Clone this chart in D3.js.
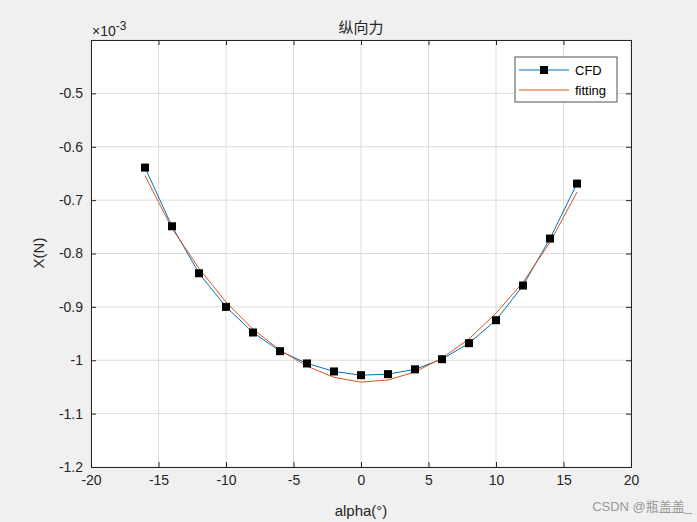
<!DOCTYPE html><html><head><meta charset="utf-8">
<script src="https://cdn.jsdelivr.net/npm/d3@7"></script>
<style>body{margin:0;background:#f0f0f0}text{font-family:Arial,"Liberation Sans","Noto Sans CJK SC",sans-serif}</style></head><body>
<svg id="c" width="697" height="522"></svg>
<script>
const alpha=[-16,-14,-12,-10,-8,-6,-4,-2,0,2,4,6,8,10,12,14,16];
const cfd=[-0.639,-0.749,-0.837,-0.900,-0.948,-0.983,-1.006,-1.021,-1.028,-1.026,-1.017,-0.998,-0.968,-0.925,-0.860,-0.772,-0.669];
const fitting=[-0.654,-0.753,-0.828,-0.891,-0.942,-0.981,-1.011,-1.032,-1.041,-1.037,-1.022,-0.996,-0.960,-0.912,-0.854,-0.779,-0.685];
const xTicks=[-20,-15,-10,-5,0,5,10,15,20];
const yTicks=[-1.2,-1.1,-1,-0.9,-0.8,-0.7,-0.6,-0.5];
const svg=d3.select("#c");
const L=91,R=631,T=40,B=467;
const x=d3.scaleLinear().domain([-20,20]).range([L,R]);
const y=d3.scaleLinear().domain([-1.2,-0.4]).range([B,T]);
svg.append("rect").attr("x",L).attr("y",T).attr("width",R-L).attr("height",B-T).attr("fill","#fff");
const g=svg.append("g");
xTicks.forEach(t=>g.append("line").attr("x1",x(t)).attr("x2",x(t)).attr("y1",T).attr("y2",B).attr("stroke","#dcdcdc"));
[...yTicks,-0.4].forEach(t=>g.append("line").attr("y1",y(t)).attr("y2",y(t)).attr("x1",L).attr("x2",R).attr("stroke","#dcdcdc"));
const fmt=d=>String(+d.toFixed(1));
svg.append("g").attr("transform",`translate(0,${B})`).call(d3.axisBottom(x).tickValues(xTicks).tickFormat(fmt).tickSize(-5).tickPadding(8));
svg.append("g").attr("transform",`translate(${L},0)`).call(d3.axisLeft(y).tickValues(yTicks).tickFormat(fmt).tickSize(-5).tickPadding(8));
svg.append("g").attr("transform",`translate(0,${T})`).call(d3.axisTop(x).tickValues(xTicks).tickSize(-5).tickFormat(""));
svg.append("g").attr("transform",`translate(${R},0)`).call(d3.axisRight(y).tickValues(yTicks).tickSize(-5).tickFormat(""));
svg.selectAll(".domain").attr("stroke","#262626");
svg.selectAll(".tick line").attr("stroke","#262626");
svg.selectAll(".tick text").attr("font-size",14).attr("fill","#262626");
const line=d3.line().x((d,i)=>x(alpha[i])).y(d=>y(d));
svg.append("path").attr("d",line(cfd)).attr("fill","none").attr("stroke","#0072bd").attr("stroke-width",1);
svg.append("path").attr("d",line(fitting)).attr("fill","none").attr("stroke","#d95319").attr("stroke-width",1);
svg.selectAll(".m").data(cfd).enter().append("rect").attr("x",(d,i)=>x(alpha[i])-4).attr("y",d=>y(d)-4).attr("width",8).attr("height",8).attr("fill","#000");
svg.append("text").attr("x",361).attr("y",33).attr("text-anchor","middle").attr("font-size",15).attr("fill","#262626").text("纵向力");
svg.append("text").attr("x",361).attr("y",516).attr("text-anchor","middle").attr("font-size",15).attr("fill","#262626").text("alpha(°)");
svg.append("text").attr("transform","translate(44,253) rotate(-90)").attr("text-anchor","middle").attr("font-size",15).attr("fill","#262626").text("X(N)");
const e=svg.append("text").attr("x",92).attr("y",36).attr("font-size",14).attr("fill","#262626");
e.append("tspan").text("×10");e.append("tspan").attr("dy",-6).attr("font-size",12).text("-3");
const lg=svg.append("g");
lg.append("rect").attr("x",515).attr("y",57).attr("width",102).attr("height",45).attr("fill","#fff").attr("stroke","#262626").attr("stroke-width",0.8);
lg.append("line").attr("x1",519).attr("x2",569).attr("y1",70).attr("y2",70).attr("stroke","#0072bd");
lg.append("rect").attr("x",540).attr("y",66).attr("width",8).attr("height",8).attr("fill","#000");
lg.append("line").attr("x1",519).attr("x2",569).attr("y1",90).attr("y2",90).attr("stroke","#d95319");
lg.append("text").attr("x",575).attr("y",75).attr("font-size",13).attr("fill","#000").text("CFD");
lg.append("text").attr("x",575).attr("y",95).attr("font-size",13).attr("fill","#000").text("fitting");
svg.append("text").attr("x",692).attr("y",511).attr("text-anchor","end").attr("font-size",13).attr("fill","#999").text("CSDN @瓶盖盖_");
</script></body></html>
